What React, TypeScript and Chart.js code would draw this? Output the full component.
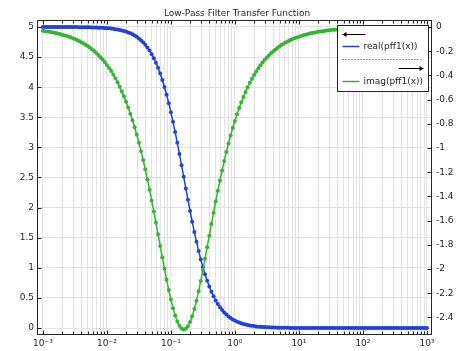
import { useEffect, useRef } from "react";
import { Chart, registerables } from "chart.js";

Chart.register(...registerables);

const TITLE = "Low-Pass Filter Transfer Function";
const SERIES_REAL = "real(pff1(x))";
const SERIES_IMAG = "imag(pff1(x))";

const xValues = [
  1e-3, 1.08e-3, 1.166e-3, 1.259e-3, 1.359e-3, 1.468e-3, 1.585e-3, 1.711e-3, 1.848e-3, 1.995e-3,
  2.154e-3, 2.326e-3, 2.512e-3, 2.712e-3, 2.929e-3, 3.162e-3, 3.415e-3, 3.687e-3, 3.981e-3, 4.299e-3,
  4.642e-3, 5.012e-3, 5.412e-3, 5.843e-3, 6.31e-3, 6.813e-3, 7.356e-3, 7.943e-3, 8.577e-3, 9.261e-3,
  1e-2, 1.08e-2, 1.166e-2, 1.259e-2, 1.359e-2, 1.468e-2, 1.585e-2, 1.711e-2, 1.848e-2, 1.995e-2,
  2.154e-2, 2.326e-2, 2.512e-2, 2.712e-2, 2.929e-2, 3.162e-2, 3.415e-2, 3.687e-2, 3.981e-2, 4.299e-2,
  4.642e-2, 5.012e-2, 5.412e-2, 5.843e-2, 6.31e-2, 6.813e-2, 7.356e-2, 7.943e-2, 8.577e-2, 9.261e-2,
  1e-1, 1.08e-1, 1.166e-1, 1.259e-1, 1.359e-1, 1.468e-1, 1.585e-1, 1.711e-1, 1.848e-1, 1.995e-1,
  2.154e-1, 2.326e-1, 2.512e-1, 2.712e-1, 2.929e-1, 3.162e-1, 3.415e-1, 3.687e-1, 3.981e-1, 4.299e-1,
  4.642e-1, 5.012e-1, 5.412e-1, 5.843e-1, 6.31e-1, 6.813e-1, 7.356e-1, 7.943e-1, 8.577e-1, 9.261e-1,
  1, 1.08, 1.166, 1.259, 1.359, 1.468, 1.585, 1.711, 1.848, 1.995,
  2.154, 2.326, 2.512, 2.712, 2.929, 3.162, 3.415, 3.687, 3.981, 4.299,
  4.642, 5.012, 5.412, 5.843, 6.31, 6.813, 7.356, 7.943, 8.577, 9.261,
  10, 10.8, 11.66, 12.59, 13.59, 14.68, 15.85, 17.11, 18.48, 19.95,
  21.54, 23.26, 25.12, 27.12, 29.29, 31.62, 34.15, 36.87, 39.81, 42.99,
  46.42, 50.12, 54.12, 58.43, 63.1, 68.13, 73.56, 79.43, 85.77, 92.61,
  100, 108, 116.6, 125.9, 135.9, 146.8, 158.5, 171.1, 184.8, 199.5,
  215.4, 232.6, 251.2, 271.2, 292.9, 316.2, 341.5, 368.7, 398.1, 429.9,
  464.2, 501.2, 541.2, 584.3, 631, 681.3, 735.6, 794.3, 857.7, 926.1,
  1000,
];

const realValues = [
  5.0, 5.0, 5.0, 5.0, 5.0, 5.0, 5.0, 4.999, 4.999, 4.999,
  4.999, 4.999, 4.999, 4.999, 4.998, 4.998, 4.998, 4.997, 4.997, 4.996,
  4.996, 4.995, 4.994, 4.993, 4.992, 4.991, 4.989, 4.988, 4.986, 4.983,
  4.98, 4.977, 4.973, 4.969, 4.964, 4.958, 4.951, 4.943, 4.934, 4.923,
  4.91, 4.895, 4.879, 4.859, 4.836, 4.81, 4.78, 4.745, 4.706, 4.66,
  4.608, 4.549, 4.482, 4.406, 4.321, 4.226, 4.12, 4.003, 3.875, 3.735,
  3.585, 3.424, 3.254, 3.076, 2.891, 2.702, 2.511, 2.319, 2.13, 1.944,
  1.765, 1.594, 1.432, 1.281, 1.14, 1.011, 0.892, 0.785, 0.689, 0.603,
  0.526, 0.458, 0.398, 0.345, 0.299, 0.259, 0.224, 0.193, 0.166, 0.143,
  0.124, 0.106, 0.092, 0.079, 0.068, 0.058, 0.05, 0.043, 0.037, 0.032,
  0.027, 0.023, 0.02, 0.017, 0.015, 0.013, 0.011, 0.009, 0.008, 0.007,
  0.006, 0.005, 0.004, 0.004, 0.003, 0.003, 0.002, 0.002, 0.002, 0.001,
  0.001, 0.001, 0.001, 0.001, 0.001, 0.001, 0, 0, 0, 0,
  0, 0, 0, 0, 0, 0, 0, 0, 0, 0,
  0, 0, 0, 0, 0, 0, 0, 0, 0, 0,
  0, 0, 0, 0, 0, 0, 0, 0, 0, 0,
  0, 0, 0, 0, 0, 0, 0, 0, 0, 0,
  0, 0, 0, 0, 0, 0, 0, 0, 0, 0,
  0,
];

const imagValues = [
  -0.031, -0.034, -0.037, -0.04, -0.043, -0.046, -0.05, -0.054, -0.058, -0.063,
  -0.068, -0.073, -0.079, -0.085, -0.092, -0.099, -0.107, -0.116, -0.125, -0.135,
  -0.146, -0.157, -0.17, -0.183, -0.198, -0.214, -0.231, -0.249, -0.269, -0.29,
  -0.313, -0.338, -0.364, -0.393, -0.424, -0.457, -0.493, -0.532, -0.573, -0.617,
  -0.665, -0.716, -0.77, -0.828, -0.89, -0.956, -1.026, -1.099, -1.177, -1.259,
  -1.344, -1.433, -1.524, -1.618, -1.713, -1.809, -1.904, -1.998, -2.088, -2.174,
  -2.252, -2.323, -2.384, -2.433, -2.469, -2.492, -2.5, -2.493, -2.472, -2.438,
  -2.39, -2.33, -2.261, -2.183, -2.098, -2.008, -1.915, -1.819, -1.724, -1.628,
  -1.534, -1.442, -1.353, -1.268, -1.186, -1.108, -1.033, -0.963, -0.897, -0.835,
  -0.776, -0.721, -0.67, -0.622, -0.578, -0.536, -0.497, -0.461, -0.428, -0.396,
  -0.367, -0.341, -0.316, -0.292, -0.271, -0.251, -0.233, -0.215, -0.2, -0.185,
  -0.171, -0.159, -0.147, -0.136, -0.126, -0.117, -0.108, -0.1, -0.093, -0.086,
  -0.08, -0.074, -0.068, -0.063, -0.059, -0.054, -0.05, -0.047, -0.043, -0.04,
  -0.037, -0.034, -0.032, -0.029, -0.027, -0.025, -0.023, -0.022, -0.02, -0.019,
  -0.017, -0.016, -0.015, -0.014, -0.013, -0.012, -0.011, -0.01, -0.009, -0.009,
  -0.008, -0.007, -0.007, -0.006, -0.006, -0.005, -0.005, -0.005, -0.004, -0.004,
  -0.004, -0.003, -0.003, -0.003, -0.003, -0.003, -0.002, -0.002, -0.002, -0.002,
  -0.002, -0.002, -0.001, -0.001, -0.001, -0.001, -0.001, -0.001, -0.001, -0.001,
  -0.001,
];

const xDecadeExponents = [-3, -2, -1, 0, 1, 2, 3];
const xMajorLabels = ["10⁻³", "10⁻²", "10⁻¹", "10⁰", "10¹", "10²", "10³"];
const xMinorMultipliers = [1, 2, 3, 4, 5, 6, 7, 8, 9];
const leftTicks = [0, 0.5, 1, 1.5, 2, 2.5, 3, 3.5, 4, 4.5, 5];
const rightTicks = [0, -0.2, -0.4, -0.6, -0.8, -1, -1.2, -1.4, -1.6, -1.8, -2, -2.2, -2.4];

const BLUE = "#2141e0";
const GREEN = "#34b534";
const INK = "#262626";
const FONT = "'DejaVu Sans', sans-serif";

const X_MIN = 8.1e-4;
const X_MAX = 1.2e3;

function buildXTicks() {
  const out: { value: number }[] = [];
  for (const e of xDecadeExponents) {
    for (const m of xMinorMultipliers) {
      const v = m * Math.pow(10, e);
      if (v >= X_MIN && v <= X_MAX) out.push({ value: v });
    }
  }
  return out;
}

function majorLabel(v: number): string {
  const lg = Math.log10(v);
  const r = Math.round(lg);
  if (Math.abs(lg - r) < 1e-9) {
    const i = xDecadeExponents.indexOf(r);
    if (i >= 0) return xMajorLabels[i];
  }
  return "";
}

const framePlugin = {
  id: "frameAndLegend",
  afterDatasetsDraw(chart: any) {
    const { ctx, chartArea: a, scales } = chart;
    ctx.save();
    ctx.strokeStyle = INK;
    ctx.lineWidth = 1;
    const L = Math.round(a.left) + 0.5;
    const R = Math.round(a.right) - 0.5;
    const T = Math.round(a.top) + 0.5;
    const B = Math.round(a.bottom) - 0.5;
    ctx.beginPath();
    // x ticks, inward on bottom and top
    for (const t of scales.x.ticks) {
      const px = Math.round(scales.x.getPixelForValue(t.value)) + 0.5;
      if (px < L + 1 || px > R - 1) continue;
      const len = majorLabel(t.value) ? 4 : 3;
      ctx.moveTo(px, B);
      ctx.lineTo(px, B - len);
      ctx.moveTo(px, T);
      ctx.lineTo(px, T + len);
    }
    for (const t of scales.y.ticks) {
      const py = Math.round(scales.y.getPixelForValue(t.value)) + 0.5;
      ctx.moveTo(L, py);
      ctx.lineTo(L + 4, py);
    }
    for (const t of scales.y2.ticks) {
      const py = Math.round(scales.y2.getPixelForValue(t.value)) + 0.5;
      ctx.moveTo(R, py);
      ctx.lineTo(R - 4, py);
    }
    ctx.stroke();
    ctx.strokeRect(L, T, R - L, B - T);

    // legend box
    const bx = Math.round(a.right) - 95 + 0.5;
    const by = Math.round(a.top) + 5 + 0.5;
    const bw = 91;
    const bh = 66;
    ctx.fillStyle = "#ffffff";
    ctx.fillRect(bx, by, bw, bh);
    ctx.strokeStyle = INK;
    ctx.lineWidth = 1;
    ctx.strokeRect(bx, by, bw, bh);

    // left arrow
    const arrow = (x1: number, x2: number, y: number, dir: number) => {
      ctx.strokeStyle = "#000";
      ctx.fillStyle = "#000";
      ctx.lineWidth = 1;
      ctx.beginPath();
      ctx.moveTo(x1, y);
      ctx.lineTo(x2, y);
      ctx.stroke();
      const tip = dir < 0 ? x1 : x2;
      ctx.beginPath();
      ctx.moveTo(tip, y);
      ctx.lineTo(tip - dir * 4, y - 2.5);
      ctx.lineTo(tip - dir * 4, y + 2.5);
      ctx.closePath();
      ctx.fill();
    };
    arrow(bx + 5, bx + 28, by + 9, -1);

    ctx.font = `9px ${FONT}`;
    ctx.textBaseline = "middle";
    ctx.textAlign = "left";

    ctx.strokeStyle = BLUE;
    ctx.lineWidth = 1.5;
    ctx.beginPath();
    ctx.moveTo(bx + 5, by + 21);
    ctx.lineTo(bx + 22, by + 21);
    ctx.stroke();
    ctx.fillStyle = INK;
    ctx.fillText(SERIES_REAL, bx + 26, by + 21.5);

    ctx.strokeStyle = "#333";
    ctx.lineWidth = 1;
    ctx.setLineDash([1, 2]);
    ctx.beginPath();
    ctx.moveTo(bx + 5, by + 34);
    ctx.lineTo(bx + 86, by + 34);
    ctx.stroke();
    ctx.setLineDash([]);

    arrow(bx + 61, bx + 86, by + 43, 1);

    ctx.strokeStyle = GREEN;
    ctx.lineWidth = 1.5;
    ctx.beginPath();
    ctx.moveTo(bx + 5, by + 56);
    ctx.lineTo(bx + 22, by + 56);
    ctx.stroke();
    ctx.fillStyle = INK;
    ctx.fillText(SERIES_IMAG, bx + 26, by + 56.5);

    ctx.restore();
  },
};

export default function App() {
  const ref = useRef<HTMLCanvasElement | null>(null);

  useEffect(() => {
    document.body.style.margin = "0";
    const canvas = ref.current;
    if (!canvas) return;
    const realData = xValues.map((x, i) => ({ x, y: realValues[i] }));
    const imagData = xValues.map((x, i) => ({ x, y: imagValues[i] }));

    const chart = new Chart(canvas, {
      type: "line",
      data: {
        datasets: [
          {
            label: SERIES_REAL,
            data: realData,
            yAxisID: "y",
            borderColor: BLUE,
            backgroundColor: BLUE,
            borderWidth: 1.5,
            pointRadius: 2,
            pointBorderWidth: 0,
            pointHoverRadius: 0,
            pointBackgroundColor: BLUE,
            tension: 0,
            order: 1,
          },
          {
            label: SERIES_IMAG,
            data: imagData,
            yAxisID: "y2",
            borderColor: GREEN,
            backgroundColor: GREEN,
            borderWidth: 1.5,
            pointRadius: 2,
            pointBorderWidth: 0,
            pointHoverRadius: 0,
            pointBackgroundColor: GREEN,
            tension: 0,
            order: 0,
          },
        ],
      },
      options: {
        responsive: false,
        animation: false,
        layout: { padding: 0 },
        plugins: {
          legend: { display: false },
          tooltip: { enabled: false },
          title: {
            display: true,
            text: TITLE,
            color: INK,
            font: { family: FONT, size: 9, weight: "normal" },
            padding: { top: 8.6, bottom: 0.6 },
          },
        },
        scales: {
          x: {
            type: "logarithmic",
            position: "bottom",
            min: X_MIN,
            max: X_MAX,
            afterBuildTicks: (scale: any) => {
              scale.ticks = buildXTicks();
            },
            afterFit: (scale: any) => {
              scale.height = 16;
            },
            grid: { color: "#e2e2e2", drawTicks: false, lineWidth: 1 },
            border: { display: false },
            ticks: {
              autoSkip: false,
              maxRotation: 0,
              minRotation: 0,
              padding: 3,
              color: INK,
              font: { family: FONT, size: 9 },
              callback: (v: any) => majorLabel(Number(v)),
            },
          },
          y: {
            type: "linear",
            position: "left",
            min: -0.116,
            max: 5.116,
            afterBuildTicks: (scale: any) => {
              scale.ticks = leftTicks.map((v) => ({ value: v }));
            },
            afterFit: (scale: any) => {
              scale.width = 37;
            },
            grid: { color: "#e2e2e2", drawTicks: false },
            border: { display: false },
            ticks: {
              padding: 3,
              color: INK,
              font: { family: FONT, size: 9 },
              callback: (v: any) => String(v),
            },
          },
          y2: {
            type: "linear",
            position: "right",
            min: -2.545,
            max: 0.058,
            afterBuildTicks: (scale: any) => {
              scale.ticks = rightTicks.map((v) => ({ value: v }));
            },
            afterFit: (scale: any) => {
              scale.width = 42;
            },
            grid: { display: false, drawTicks: false },
            border: { display: false },
            ticks: {
              padding: 4,
              color: INK,
              font: { family: FONT, size: 9 },
              callback: (v: any) => String(Math.round(Number(v) * 10) / 10),
            },
          },
        },
      },
      plugins: [framePlugin],
    });
    return () => chart.destroy();
  }, []);

  return (
    <div style={{ width: 474, height: 351 }}>
      <canvas ref={ref} width={474} height={351} style={{ display: "block" }} />
    </div>
  );
}
